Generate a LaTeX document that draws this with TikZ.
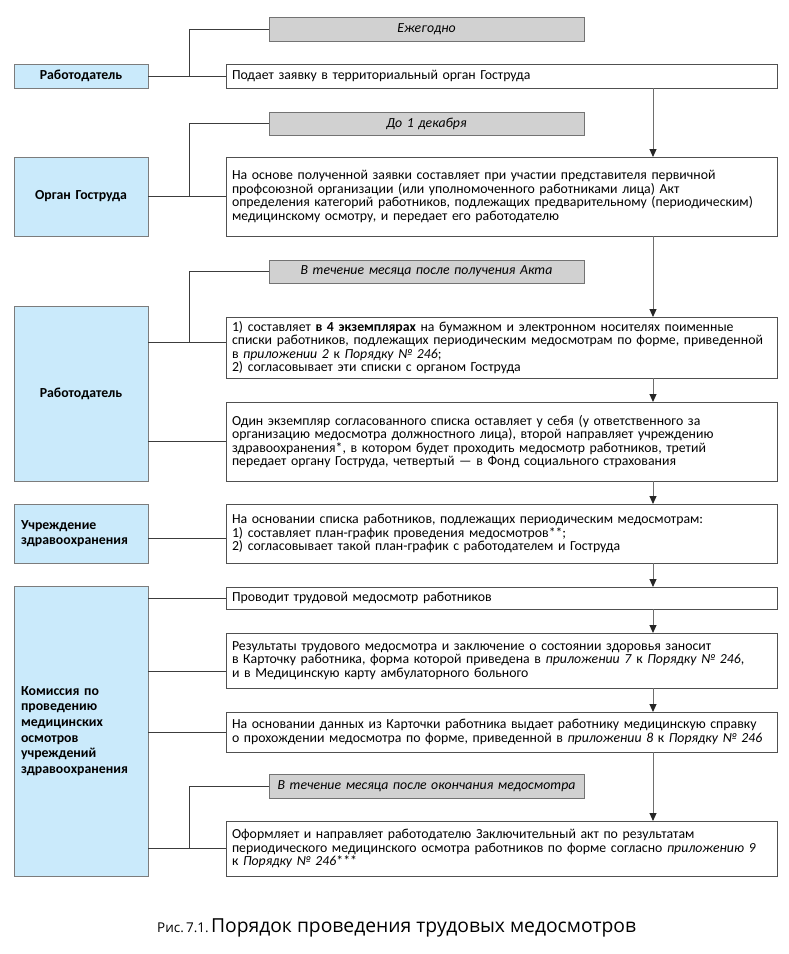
\documentclass[tikz,border=0pt]{standalone}
\usepackage{fontspec}
\setmainfont{Carlito}
\newfontfamily\capfont{Open Sans}
\usetikzlibrary{arrows.meta,shadows}
\definecolor{lblue}{HTML}{CAEAFB}
\definecolor{gfill}{HTML}{D1D1D1}
\definecolor{bord}{HTML}{505050}
\definecolor{lbord}{HTML}{7C7C7C}
\definecolor{conn}{HTML}{3C3C3C}
\definecolor{arrl}{HTML}{6E6E6E}
\tikzset{
  basefont/.style={font=\fontsize{13.8}{13.6}\selectfont},
  rbox/.style={draw=bord, line width=0.9pt, fill=white, anchor=north west, outer sep=0pt,
    minimum width=551pt, text width=539pt, inner xsep=6pt, inner ysep=0pt, align=left, basefont},
  lbox/.style={draw=lbord, line width=0.9pt, fill=lblue, anchor=north west, outer sep=0pt,
    minimum width=134pt, text width=120pt, inner xsep=7pt, inner ysep=0pt,
    font=\fontsize{13.8}{15.6}\selectfont\bfseries},
  gbox/.style={draw=black!55, line width=0.8pt, fill=gfill, anchor=north west, outer sep=0pt,
    minimum width=315pt, text width=303pt, inner xsep=6pt, inner ysep=0pt, align=center,
    font=\fontsize{13.8}{13.6}\selectfont\itshape,
    drop shadow={shadow xshift=0.9pt, shadow yshift=-0.9pt, fill=black!75, opacity=1}},
  cline/.style={draw=conn, line width=0.8pt},
  arr/.style={draw=arrl, line width=1pt, -{Triangle[length=8pt,width=7pt,color=black!85]}},
}
\begin{document}
\begin{tikzpicture}[x=1pt,y=-1pt]
\useasboundingbox (0,0) rectangle (789,954);
% left boxes
\node[lbox, align=center, minimum height=24pt] (l1) at (14,64) {Работодатель};
\node[lbox, align=center, minimum height=79pt] (l2) at (14,157) {Орган Гоструда};
\node[lbox, align=center, minimum height=175pt] (l3) at (14,306) {Работодатель};
\node[lbox, align=left, minimum height=59pt] (l4) at (14,504) {Учреждение\\здравоохранения};
\node[lbox, align=left, minimum height=290pt] (l5) at (14,586) {Комиссия по\\проведению\\медицинских\\осмотров\\учреждений\\здравоохранения};
% gray boxes
\node[gbox, minimum height=24pt] (g1) at (269,17) {Ежегодно};
\node[gbox, minimum height=23pt] (g2) at (269,112) {До 1 декабря};
\node[gbox, minimum height=23pt] (g3) at (269,260) {В течение месяца после получения Акта};
\node[gbox, minimum height=24pt] (g4) at (269,774) {В течение месяца после окончания медосмотра};
% right boxes
\node[rbox, minimum height=24pt] (r1) at (226,64) {Подает заявку в территориальный орган Гоструда};
\node[rbox, minimum height=79pt] (r2) at (226,157) {На основе полученной заявки составляет при участии представителя первичной\\
профсоюзной организации (или уполномоченного работниками лица) Акт\\
определения категорий работников, подлежащих предварительному (периодическим)\\
медицинскому осмотру, и передает его работодателю};
\node[rbox, minimum height=61pt] (r3) at (226,317) {1) составляет \textbf{в 4 экземплярах} на бумажном и электронном носителях поименные\\
списки работников, подлежащих периодическим медосмотрам по форме, приведенной\\
в \textit{приложении 2} к \textit{Порядку №~246};\\
2) согласовывает эти списки с органом Гоструда};
\node[rbox, minimum height=79pt] (r4) at (226,402) {Один экземпляр согласованного списка оставляет у себя (у ответственного за\\
организацию медосмотра должностного лица), второй направляет учреждению\\
здравоохранения*, в котором будет проходить медосмотр работников, третий\\
передает органу Гоструда, четвертый — в Фонд социального страхования};
\node[rbox, minimum height=59pt] (r5) at (226,504) {На основании списка работников, подлежащих периодическим медосмотрам:\\
1) составляет план-график проведения медосмотров**;\\
2) согласовывает такой план-график с работодателем и Гоструда};
\node[rbox, minimum height=22pt] (r6) at (226,587) {Проводит трудовой медосмотр работников};
\node[rbox, minimum height=55pt] (r7) at (226,633) {Результаты трудового медосмотра и заключение о состоянии здоровья заносит\\
в Карточку работника, форма которой приведена в \textit{приложении 7} к \textit{Порядку №~246},\\
и в Медицинскую карту амбулаторного больного};
\node[rbox, minimum height=40pt] (r8) at (226,712) {На основании данных из Карточки работника выдает работнику медицинскую справку\\
о прохождении медосмотра по форме, приведенной в \textit{приложении 8} к \textit{Порядку №~246}};
\node[rbox, minimum height=55pt] (r9) at (226,821) {Оформляет и направляет работодателю Заключительный акт по результатам\\
периодического медицинского осмотра работников по форме согласно \textit{приложению 9}\\
к \textit{Порядку №~246}***};
% helper coordinates
\coordinate (ax) at (653,0);
\coordinate (yc) at (0,342);
\coordinate (ye) at (0,538);
\coordinate (yg) at (0,671);
\coordinate (j1) at (189,76);
\coordinate (j2) at (189,196.5);
\coordinate (j3) at (189,342);
\coordinate (j4) at (189,848.5);
% connectors
\draw[cline] (l1.east) -- (r1.west);
\draw[cline] (j1) |- (g1.west);
\draw[cline] (l2.east) -- (r2.west);
\draw[cline] (j2) |- (g2.west);
\draw[cline] (l3.east |- yc) -- (r3.west |- yc);
\draw[cline] (j3) |- (g3.west);
\draw[cline] (l3.east |- r4.west) -- (r4.west);
\draw[cline] (l4.east |- ye) -- (r5.west |- ye);
\draw[cline] (l5.east |- r6.west) -- (r6.west);
\draw[cline] (l5.east |- yg) -- (r7.west |- yg);
\draw[cline] (l5.east |- r8.west) -- (r8.west);
\draw[cline] (l5.east |- r9.west) -- (r9.west);
\draw[cline] (j4) |- (g4.west);
% arrows
\draw[arr] (r1.south -| ax) -- (r2.north -| ax);
\draw[arr] (r2.south -| ax) -- (r3.north -| ax);
\draw[arr] (r3.south -| ax) -- (r4.north -| ax);
\draw[arr] (r4.south -| ax) -- (r5.north -| ax);
\draw[arr] (r5.south -| ax) -- (r6.north -| ax);
\draw[arr] (r6.south -| ax) -- (r7.north -| ax);
\draw[arr] (r7.south -| ax) -- (r8.north -| ax);
\draw[arr] (r8.south -| ax) -- (r9.north -| ax);
% caption
\node[anchor=base west, inner sep=0pt] (cap) at (157,932.5) {\capfont\fontsize{13.5}{14}\selectfont Рис.\,7.1.\,\fontsize{19.3}{21}\selectfont Порядок проведения трудовых медосмотров};
\end{tikzpicture}
\end{document}
